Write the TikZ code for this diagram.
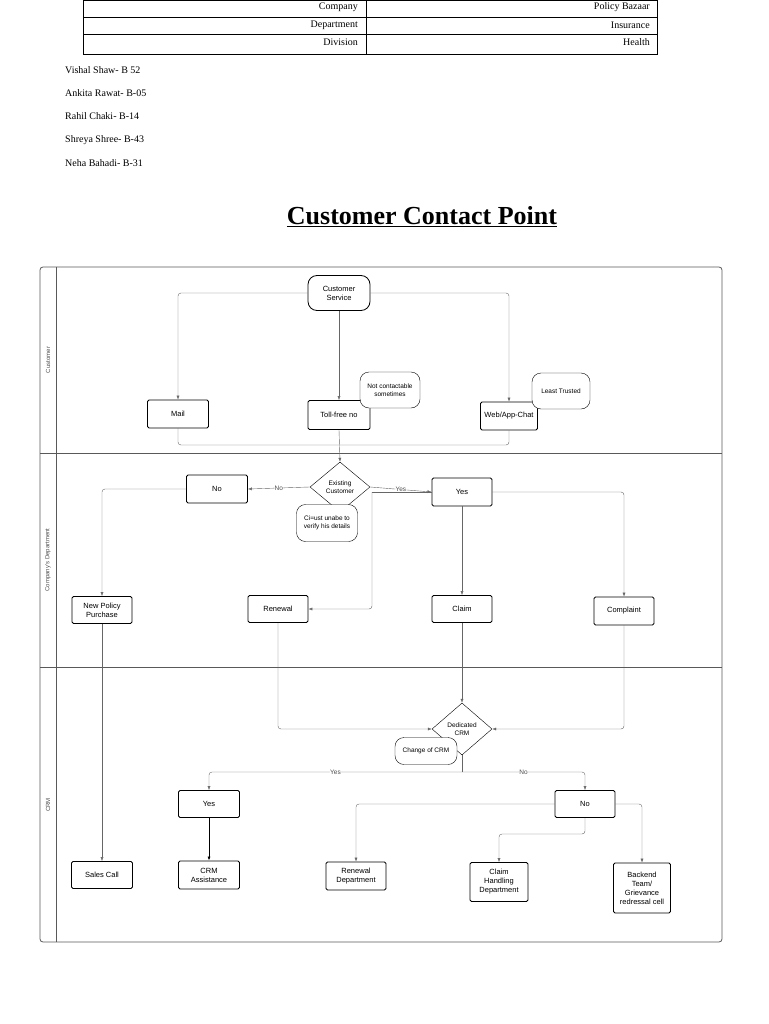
\documentclass[tikz,border=0pt]{standalone}
\usepackage{fontspec}
\setmainfont{Liberation Serif}
\newfontfamily\lsans{Liberation Sans}
\usetikzlibrary{shapes.geometric,arrows.meta}
\begin{document}
\begin{tikzpicture}[x=1pt,y=-1pt,
  box/.style={draw,rounded corners=1.5pt,thick,font=\lsans\fontsize{7.5}{9}\selectfont,align=center,inner sep=1pt},
  pill/.style={draw,rounded corners=9pt,font=\lsans\fontsize{6.5}{8}\selectfont,align=center,inner sep=1pt,fill=white},
  dia/.style={draw,diamond,aspect=1.15,font=\lsans\fontsize{6.5}{8}\selectfont,align=center,inner sep=0pt,fill=white},
  ln/.style={draw=gray!80!black,rounded corners=3pt,line width=0.4pt},
  ar/.style={ln,-{Latex[length=4pt,width=3pt]}},
  lab/.style={font=\lsans\fontsize{6.5}{7}\selectfont,fill=white,inner sep=0.5pt,text=gray!60!black},
  lane/.style={font=\lsans\fontsize{6}{7}\selectfont,rotate=90,text=gray!60!black},
  cell/.style={font=\fontsize{10}{12}\selectfont,anchor=east,inner sep=0pt}]
\useasboundingbox (0,0) rectangle (768,1024);
% table
\draw (83,0) rectangle (657,54);
\draw (83,17) -- (657,17) (83,34) -- (657,34) (366,0) -- (366,54);
\node[cell] (c1) at (358,7) {Company};
\node[cell] (c2) at (358,25) {Department};
\node[cell] (c3) at (358,42) {Division};
\node[cell] (v1) at (650,7) {Policy Bazaar};
\node[cell] (v2) at (650,25) {Insurance};
\node[cell] (v3) at (650,42) {Health};
% names
\foreach \t/\y [count=\i] in {{Vishal Shaw- B 52}/70,{Ankita Rawat- B-05}/93,{Rahil Chaki- B-14}/116,{Shreya Shree- B-43}/140,{Neha Bahadi- B-31}/163}
  \node[anchor=west,inner sep=0pt,font=\fontsize{10}{12}\selectfont] (n\i) at (65,\y) {\t};
\node[font=\bfseries\fontsize{26}{28}\selectfont] (title) at (422,217) {\underline{Customer Contact Point}};
% swimlanes
\draw[gray!70!black,thick,rounded corners=3pt] (40,267) rectangle (722,942);
\draw[gray!70!black,thick] (56,267) -- (56,942) (40,453) -- (722,453) (40,667) -- (722,667);
\node[lane] (l1) at (48,360) {Customer};
\node[lane] (l2) at (48,560) {Company's Department};
\node[lane] (l3) at (48,805) {CRM};
% nodes
\node[box,rounded corners=9pt,minimum width=62,minimum height=35] (cs) at (339,293) {Customer\\Service};
\node[box,minimum width=61,minimum height=28] (mail) at (178,414) {Mail};
\node[box,minimum width=62,minimum height=29] (toll) at (339,415) {Toll-free no};
\node[box,minimum width=57,minimum height=28] (web) at (509,416) {Web/App-Chat};
\node[pill,minimum width=60,minimum height=36] (nc) at (390,390) {Not contactable\\sometimes};
\node[pill,minimum width=58,minimum height=36] (lt) at (561,391) {Least Trusted};
\node[dia,minimum width=60,minimum height=50] (ex) at (340,487) {Existing\\Customer};
\node[pill,minimum width=61,minimum height=37] (ci) at (327,523) {Ci=ust unabe to\\verify his details};
\node[box,minimum width=61,minimum height=28] (no1) at (217,489) {No};
\node[box,minimum width=60,minimum height=28] (yes1) at (462,492) {Yes};
\node[box,minimum width=60,minimum height=27] (np) at (102,610) {New Policy\\Purchase};
\node[box,minimum width=60,minimum height=27] (ren) at (278,609) {Renewal};
\node[box,minimum width=60,minimum height=27] (clm) at (462,609) {Claim};
\node[box,minimum width=60,minimum height=28] (cmp) at (624,611) {Complaint};
\node[dia,minimum width=60,minimum height=52] (dc) at (462,729) {Dedicated\\CRM};
\node[pill,minimum width=62,minimum height=27] (cc) at (426,751) {Change of CRM};
\node[box,minimum width=61,minimum height=27] (yes2) at (209,804) {Yes};
\node[box,minimum width=60,minimum height=27] (no2) at (585,804) {No};
\node[box,minimum width=61,minimum height=27] (sc) at (102,875) {Sales Call};
\node[box,minimum width=61,minimum height=28] (crma) at (209,875) {CRM\\Assistance};
\node[box,minimum width=60,minimum height=28] (rd) at (356,876) {Renewal\\Department};
\node[box,minimum width=58,minimum height=39] (chd) at (499,882) {Claim\\Handling\\Department};
\node[box,minimum width=57,minimum height=50] (bt) at (642,888) {Backend\\Team/\\Grievance\\redressal cell};
% connectors
\draw[ar] (cs.west) -| (mail.north);
\draw[ar] (cs.east) -| (web.north);
\draw[ar] (cs.south) -- (toll.north);
\draw[ln] (mail.south) |- (339,445) (web.south) |- (339,445);
\draw[ar] (toll.south) -- (ex.north);
\draw[ar] (ex.west) -- node[lab]{No} (no1.east);
\draw[ar] (ex.east) -- node[lab,pos=0.5]{Yes} (yes1.west);
\coordinate (sp) at (372,492);
\draw[ar] (sp) |- (ren.east);
\draw[ln] (sp) -- (yes1.west);
\draw[ar] (no1.west) -| (np.north);
\draw[ar] (yes1.south) -- (clm.north);
\draw[ar] (yes1.east) -| (cmp.north);
\draw[ar] (np.south) -- (sc.north);
\draw[ar] (ren.south) |- (dc.west);
\draw[ar] (clm.south) -- (dc.north);
\draw[ar] (cmp.south) |- (dc.east);
\coordinate (dj) at (462,772);
\draw[ln] (dc.south) -- (dj);
\draw[ar] (dj) -| node[lab,pos=0.25]{Yes} (yes2.north);
\draw[ar] (dj) -| node[lab,pos=0.25]{No} (no2.north);
\draw[ar,line width=0.7pt,black] (yes2.south) -- (crma.north);
\draw[ar] (no2.west) -| (rd.north);
\draw[ar] (no2.south) |- (499,834) -- (chd.north);
\draw[ar] (no2.east) -| (bt.north);
\end{tikzpicture}
\end{document}
